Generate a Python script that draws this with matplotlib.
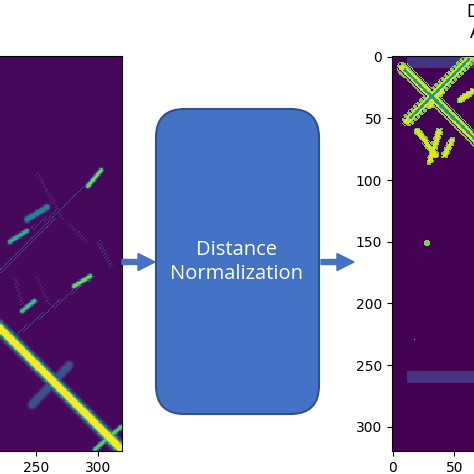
import numpy as np
import matplotlib
matplotlib.use("Agg")
import matplotlib.pyplot as plt
from matplotlib.patches import FancyBboxPatch, FancyArrow

N = 320
# left matrix features: (col0,row0,col1,row1,value,width)
left_segments = [
    (0, 0, 320, 320, 1.0, 3.5),
    (246, 282, 276, 250, 0.25, 3.0),
    (291, 105, 302, 92, 0.8, 1.5),
    (228, 150, 242, 141, 0.65, 1.5),
    (280, 186, 293, 178, 0.8, 1.5),
    (238, 206, 248, 198, 0.7, 1.5),
    (297, 318, 318, 300, 0.75, 1.5),
    (242, 132, 258, 122, 0.45, 2.0),
]
left_dotted = [
    (220, 175, 300, 93, 0.2), (225, 232, 295, 178, 0.2), (230, 150, 268, 124, 0.15),
    (250, 95, 270, 130, 0.12), (275, 135, 290, 150, 0.12), (300, 150, 310, 170, 0.15),
    (250, 180, 260, 200, 0.12), (232, 180, 238, 200, 0.15),
]
# right matrix features
right_bands = [(0, 10, 12, 320, 0.15), (255, 265, 12, 320, 0.15)]
right_segments = [
    (10, 11, 70, 70, 0.55, 1.2),
    (14, 50, 62, 2, 0.55, 1.0),
]
right_halo = [
    (8, 9, 72, 72, 5), (12, 52, 64, 0, 5), (20, 60, 35, 80, 3), (38, 60, 30, 85, 3),
    (48, 68, 42, 80, 3), (30, 40, 40, 28, 3), (55, 35, 65, 28, 3),
]
right_blobs = [(28, 151, 2.5), (18, 229, 0.8)]


def seg_dist(c0, r0, c1, r1):
    yy, xx = np.mgrid[0:N, 0:N]
    p = np.stack([xx - c0, yy - r0], -1).astype(float)
    d = np.array([c1 - c0, r1 - r0], float)
    t = np.clip((p @ d) / (d @ d), 0, 1)
    return np.hypot(p[..., 0] - t * d[0], p[..., 1] - t * d[1])


yy, xx = np.mgrid[0:N, 0:N]
L = np.full((N, N), 0.02)
for c0, r0, c1, r1, v, w in left_segments:
    dist = seg_dist(c0, r0, c1, r1)
    L = np.maximum(L, v * np.clip(1.6 * np.exp(-(dist / w) ** 2), 0, 1))
for c0, r0, c1, r1, v in left_dotted:
    dist = seg_dist(c0, r0, c1, r1)
    dots = ((xx + yy) % 3 == 0)
    L = np.maximum(L, np.where((dist < 1.5) & dots, v, 0))

R = np.zeros((N, N))
for r0, r1, c0, c1, v in right_bands:
    R[r0:r1, c0:c1] = v
for c0, r0, c1, r1, w in right_halo:
    dist = seg_dist(c0, r0, c1, r1)
    R = np.where((dist < w) & ((xx * 7 + yy * 3) % 5 != 0), np.maximum(R, 0.8), R)
    R = np.where((dist < w * 0.55), np.maximum(R, 0.95), R)
for c0, r0, c1, r1, v, w in right_segments:
    dist = seg_dist(c0, r0, c1, r1)
    R = np.where(dist < w, v, R)
for c, r, rad in right_blobs:
    R = np.where(np.hypot(xx - c, yy - r) < rad, 0.8, R)

fig = plt.figure(figsize=(4.74, 4.74), dpi=100)
W = H = 474.0
aw = 395 / W
ah = 395 / H
ax1 = fig.add_axes([(122 - 395) / W, 1 - 451 / H, aw, ah])
ax1.imshow(L, cmap="viridis", vmin=0, vmax=1, interpolation="nearest")
ax1.set_xticks([250, 300])
ax1.set_yticks([])
ax1.tick_params(labelsize=10)

ax2 = fig.add_axes([392 / W, 1 - 451 / H, aw, ah])
ax2.imshow(R, cmap="viridis", vmin=0, vmax=1, interpolation="nearest")
ax2.set_xticks([0, 50])
ax2.set_yticks([0, 50, 100, 150, 200, 250, 300])
ax2.tick_params(labelsize=10)

box = FancyBboxPatch((156 / W, 1 - 414 / H), 163 / W, 305 / H,
                     boxstyle="round,pad=0,rounding_size=0.06",
                     transform=fig.transFigure, facecolor="#4472C4",
                     edgecolor="#2F528F", linewidth=1.5)
fig.patches.append(box)
fig.text(237 / W, 1 - 262 / H, "Distance\nNormalization", color="white",
         ha="center", va="center", fontsize=14.5, family="Open Sans", linespacing=1.3)
for x0 in (122, 321):
    fig.patches.append(FancyArrow(x0 / W, 1 - 262 / H, 33 / W, 0, width=5 / H,
                                  head_width=17 / H, head_length=17 / W,
                                  length_includes_head=True, color="#4472C4",
                                  transform=fig.transFigure))
fig.text(467 / W, 1 - 12 / H, "Distance Normalized", fontsize=12, va="center")
fig.text(470 / W, 1 - 33 / H, "Adjacency Matrix", fontsize=12, va="center")
fig.savefig("out.png", dpi=100)
